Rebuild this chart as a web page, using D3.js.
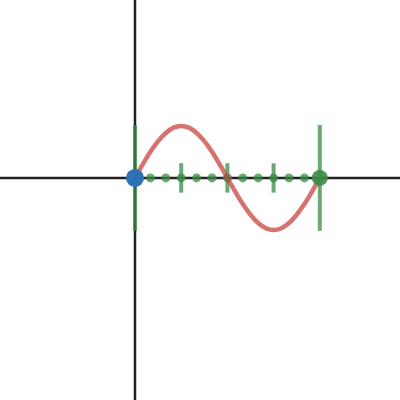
<!DOCTYPE html>
<html><head><script src="https://d3js.org/d3.v7.min.js"></script>
<style>body{margin:0;background:#fff}</style></head><body>
<script>
const curveX = [0,0.2618,0.5236,0.7854,1.0472,1.309,1.5708,1.8326,2.0944,2.3562,2.618,2.8798,3.1416,3.4034,3.6652,3.927,4.1888,4.4506,4.7124,4.9742,5.236,5.4978,5.7596,6.0214,6.2832];
const curveY = [0,0.46,0.89,1.25,1.53,1.71,1.77,1.71,1.53,1.25,0.89,0.46,0,-0.46,-0.89,-1.25,-1.53,-1.71,-1.77,-1.71,-1.53,-1.25,-0.89,-0.46,0];
const dotX = [0.5236,1.0472,1.5708,2.0944,2.618,3.1416,3.6652,4.1888,4.7124,5.236,5.7596];
const tallX = [0, 6.2832], tallH = 1.8;
const shortX = [1.5708, 3.1416, 4.7124], shortH = 0.5;
const W=400,H=400;
const x=d3.scaleLinear().domain([-4.59,9.01]).range([0,W]);
const y=d3.scaleLinear().domain([6.05,-7.55]).range([0,H]);
const svg=d3.select("body").append("svg").attr("width",W).attr("height",H);
svg.append("line").attr("x1",0).attr("x2",W).attr("y1",y(0)).attr("y2",y(0)).attr("stroke","#222").attr("stroke-width",2.5);
svg.append("line").attr("y1",0).attr("y2",H).attr("x1",x(0)).attr("x2",x(0)).attr("stroke","#222").attr("stroke-width",2.5);
const g="#388c46";
svg.selectAll(".t").data(tallX).enter().append("line").attr("x1",d=>x(d)).attr("x2",d=>x(d)).attr("y1",y(tallH)).attr("y2",y(-tallH)).attr("stroke",g).attr("stroke-opacity",0.75).attr("stroke-width",4);
svg.selectAll(".s").data(shortX).enter().append("line").attr("x1",d=>x(d)).attr("x2",d=>x(d)).attr("y1",y(shortH)).attr("y2",y(-shortH)).attr("stroke",g).attr("stroke-opacity",0.75).attr("stroke-width",4);
svg.selectAll(".d").data(dotX).enter().append("circle").attr("cx",d=>x(d)).attr("cy",y(0)).attr("r",4.5).attr("fill",g).attr("fill-opacity",0.75);
const line=d3.line().x((d,i)=>x(curveX[i])).y(d=>y(d)).curve(d3.curveCardinal);
svg.append("path").attr("d",line(curveY)).attr("fill","none").attr("stroke","#c74440").attr("stroke-opacity",0.75).attr("stroke-width",4.5);
svg.append("circle").attr("cx",x(6.2832)).attr("cy",y(0)).attr("r",8).attr("fill",g).attr("fill-opacity",0.9);
svg.append("circle").attr("cx",x(0)).attr("cy",y(0)).attr("r",9).attr("fill","#2d70b3");
</script></body></html>
